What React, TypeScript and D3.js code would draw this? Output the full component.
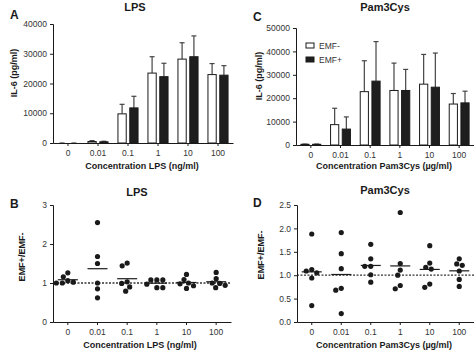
import React, { useEffect, useRef } from 'react'
import * as d3 from 'd3'

const categories = ['0', '0.01', '0.1', '1', '10', '100']
const seriesNames = ['EMF-', 'EMF+']

// IL-6 (pg/ml), mean and upper error (SD) per concentration
const lpsEmfMinus = [0, 500, 9800, 23500, 28200, 23000]
const lpsEmfMinusErr = [0, 300, 3200, 5500, 5500, 3700]
const lpsEmfPlus = [0, 400, 11800, 22300, 29000, 22800]
const lpsEmfPlusErr = [0, 200, 3900, 4500, 7000, 3200]

const pamEmfMinus = [300, 8700, 22800, 23300, 26000, 17500]
const pamEmfMinusErr = [100, 7000, 13200, 11700, 12700, 4500]
const pamEmfPlus = [300, 6800, 27300, 23300, 24700, 18000]
const pamEmfPlusErr = [100, 5200, 16900, 9000, 14600, 5000]

// EMF+/EMF- ratio, one point per donor
const lpsRatio = [
  [1.26, 1.16, 1.06, 1.02, 1.0, 1.0],
  [2.55, 1.68, 1.5, 1.0, 0.85, 0.62],
  [1.51, 1.44, 1.03, 0.99, 0.9, 0.79],
  [1.08, 1.08, 1.08, 0.97, 0.88, 0.88],
  [1.22, 1.09, 1.0, 0.98, 0.93, 0.86],
  [1.27, 1.11, 1.0, 0.99, 0.94, 0.88]
]
const pamRatio = [
  [1.88, 1.12, 1.09, 1.05, 0.94, 0.35],
  [1.91, 1.46, 1.14, 0.72, 0.68, 0.18],
  [1.66, 1.35, 1.19, 1.19, 1.01, 0.85],
  [2.34, 1.25, 1.11, 1.0, 0.78, 0.71],
  [1.63, 1.26, 1.17, 1.13, 0.81, 0.74],
  [1.35, 1.24, 1.21, 1.09, 0.91, 0.76]
]

const FONT = '"Liberation Sans", Arial, sans-serif'
const INK = '#1a1a1a'
const TICK_TEXT = '#333'

function styleAxis(g) {
  g.selectAll('path, line').attr('stroke', INK).attr('stroke-width', 1)
  g.selectAll('text')
    .attr('fill', TICK_TEXT)
    .attr('font-size', 8.5)
    .attr('font-family', FONT)
}

function drawBars(svg, o) {
  const g = svg.append('g')
  const x = d3.scaleBand().domain(categories).range(o.xRange).paddingInner(0.33).paddingOuter(0.165)
  const x1 = d3.scaleBand().domain(seriesNames).range([0, x.bandwidth()]).paddingInner(0.3)
  const y = d3.scaleLinear().domain([0, o.yMax]).range(o.yRange)

  const rows = categories.map((c, i) => [
    { c, s: 'EMF-', v: o.minus[i], e: o.minusErr[i] },
    { c, s: 'EMF+', v: o.plus[i], e: o.plusErr[i] }
  ]).flat()

  // error bars (upper only)
  const err = g.selectAll('g.err').data(rows).enter().append('g')
  err.append('line')
    .attr('x1', d => x(d.c) + x1(d.s) + x1.bandwidth() / 2)
    .attr('x2', d => x(d.c) + x1(d.s) + x1.bandwidth() / 2)
    .attr('y1', d => y(d.v))
    .attr('y2', d => y(d.v + d.e))
    .attr('stroke', '#444').attr('stroke-width', 1.2)
  err.append('line')
    .attr('x1', d => x(d.c) + x1(d.s) + x1.bandwidth() / 2 - 2.5)
    .attr('x2', d => x(d.c) + x1(d.s) + x1.bandwidth() / 2 + 2.5)
    .attr('y1', d => y(d.v + d.e))
    .attr('y2', d => y(d.v + d.e))
    .attr('stroke', '#444').attr('stroke-width', 1.2)

  g.selectAll('rect.bar').data(rows).enter().append('rect')
    .attr('x', d => x(d.c) + x1(d.s))
    .attr('width', x1.bandwidth())
    .attr('y', d => y(d.v))
    .attr('height', d => y(0) - y(d.v))
    .attr('fill', d => d.s === 'EMF-' ? '#fff' : '#1e1e1e')
    .attr('stroke', INK).attr('stroke-width', 1)

  g.append('g').attr('transform', `translate(${o.xRange[0]},0)`)
    .call(d3.axisLeft(y).ticks(o.yTicks).tickSize(3).tickPadding(3).tickFormat(d3.format('d')))
    .call(styleAxis)
  g.append('g').attr('transform', `translate(0,${o.yRange[0]})`)
    .call(d3.axisBottom(x).tickSize(3).tickPadding(4).tickSizeOuter(0))
    .call(styleAxis)

  if (o.legend) {
    const lg = g.append('g').attr('transform', `translate(${o.legend[0]},${o.legend[1]})`)
    seriesNames.forEach((s, i) => {
      lg.append('rect').attr('x', 0).attr('y', i * 14).attr('width', 8).attr('height', 5)
        .attr('fill', i === 0 ? '#fff' : '#1e1e1e').attr('stroke', INK)
      lg.append('text').attr('x', 13).attr('y', i * 14 + 5.5).text(s)
        .attr('font-size', 8.5).attr('font-family', FONT).attr('fill', TICK_TEXT)
    })
  }
}

function swarm(values, y, minD) {
  const placed = []
  const sorted = values.map(v => v).sort((a, b) => b - a)
  sorted.forEach(v => {
    const py = y(v)
    let dx = 0
    for (let k = 0; k < 60; k++) {
      const cand = (k % 2 === 0 ? 1 : -1) * Math.ceil(k / 2) * 0.5
      const ok = placed.every(p => Math.hypot(p.dx - cand, p.py - py) >= minD)
      if (ok) { dx = cand; break }
    }
    placed.push({ v, dx, py })
  })
  return placed
}

function drawScatter(svg, o) {
  const g = svg.append('g')
  const x = d3.scaleBand().domain(categories).range(o.xRange)
  const y = d3.scaleLinear().domain([0, o.yMax]).range(o.yRange)

  g.append('line')
    .attr('x1', o.xRange[0]).attr('x2', o.xRange[1])
    .attr('y1', y(1)).attr('y2', y(1))
    .attr('stroke', '#333').attr('stroke-width', 1.3).attr('stroke-dasharray', '2,1.5')

  categories.forEach((c, i) => {
    const cx = x(c) + x.bandwidth() / 2
    const pts = swarm(o.data[i], y, 5.6)
    g.selectAll(null).data(pts).enter().append('circle')
      .attr('cx', d => cx + d.dx)
      .attr('cy', d => d.py)
      .attr('r', 2.6)
      .attr('fill', '#1a1a1a')
    const m = d3.mean(o.data[i])
    g.append('line')
      .attr('x1', cx - 10).attr('x2', cx + 10)
      .attr('y1', y(m)).attr('y2', y(m))
      .attr('stroke', INK).attr('stroke-width', 1.2)
  })

  g.append('g').attr('transform', `translate(${o.xRange[0]},0)`)
    .call(d3.axisLeft(y).ticks(o.yTicks).tickSize(3).tickPadding(3).tickFormat(d3.format(o.yFormat)))
    .call(styleAxis)
  g.append('g').attr('transform', `translate(0,${o.yRange[0]})`)
    .call(d3.axisBottom(x).tickSize(3).tickPadding(4).tickSizeOuter(0))
    .call(styleAxis)
}

function label(svg, txt, x, y, size, anchor = 'middle', rotate = false) {
  const t = svg.append('text')
    .text(txt)
    .attr('font-family', FONT)
    .attr('font-weight', 'bold')
    .attr('font-size', size)
    .attr('fill', INK)
    .attr('text-anchor', anchor)
  if (rotate) t.attr('transform', `translate(${x},${y}) rotate(-90)`)
  else t.attr('x', x).attr('y', y)
}

export default function App() {
  const ref = useRef(null)

  useEffect(() => {
    const svg = d3.select(ref.current)
    svg.selectAll('*').remove()

    drawBars(svg, {
      xRange: [53, 233], yRange: [143, 24], yMax: 40000, yTicks: 4,
      minus: lpsEmfMinus, minusErr: lpsEmfMinusErr, plus: lpsEmfPlus, plusErr: lpsEmfPlusErr
    })
    drawBars(svg, {
      xRange: [296, 474], yRange: [145, 28], yMax: 50000, yTicks: 5,
      minus: pamEmfMinus, minusErr: pamEmfMinusErr, plus: pamEmfPlus, plusErr: pamEmfPlusErr,
      legend: [306, 43]
    })
    drawScatter(svg, { xRange: [53, 231], yRange: [322, 205], yMax: 3, yTicks: 3, yFormat: 'd', data: lpsRatio })
    drawScatter(svg, { xRange: [297, 474], yRange: [322, 205], yMax: 2.5, yTicks: 5, yFormat: '.1f', data: pamRatio })

    label(svg, 'LPS', 135, 11, 11)
    label(svg, 'Pam3Cys', 385, 11, 11)
    label(svg, 'LPS', 137, 196, 11)
    label(svg, 'Pam3Cys', 385, 194, 11)
    label(svg, 'A', 10, 19, 12, 'start')
    label(svg, 'C', 253, 21, 12, 'start')
    label(svg, 'B', 10, 208, 12, 'start')
    label(svg, 'D', 253, 207, 12, 'start')

    label(svg, 'Concentration LPS (ng/ml)', 142, 169, 9)
    label(svg, 'Concentration Pam3Cys (\u00b5g/ml)', 384, 169, 9)
    label(svg, 'Concentration LPS (ng/ml)', 140, 348, 9)
    label(svg, 'Concentration Pam3Cys (\u00b5g/ml)', 384, 348, 9)

    label(svg, 'IL-6 (pg/ml)', 17, 73, 9, 'middle', true)
    label(svg, 'IL-6 (pg/ml)', 262, 76, 9, 'middle', true)
    label(svg, 'EMF+/EMF-', 25, 257, 9, 'middle', true)
    label(svg, 'EMF+/EMF-', 264, 255, 9, 'middle', true)
  }, [])

  return (
    <svg ref={ref} width={474} height={360}
      style={{ position: 'absolute', left: 0, top: 0, background: '#fff' }} />
  )
}
